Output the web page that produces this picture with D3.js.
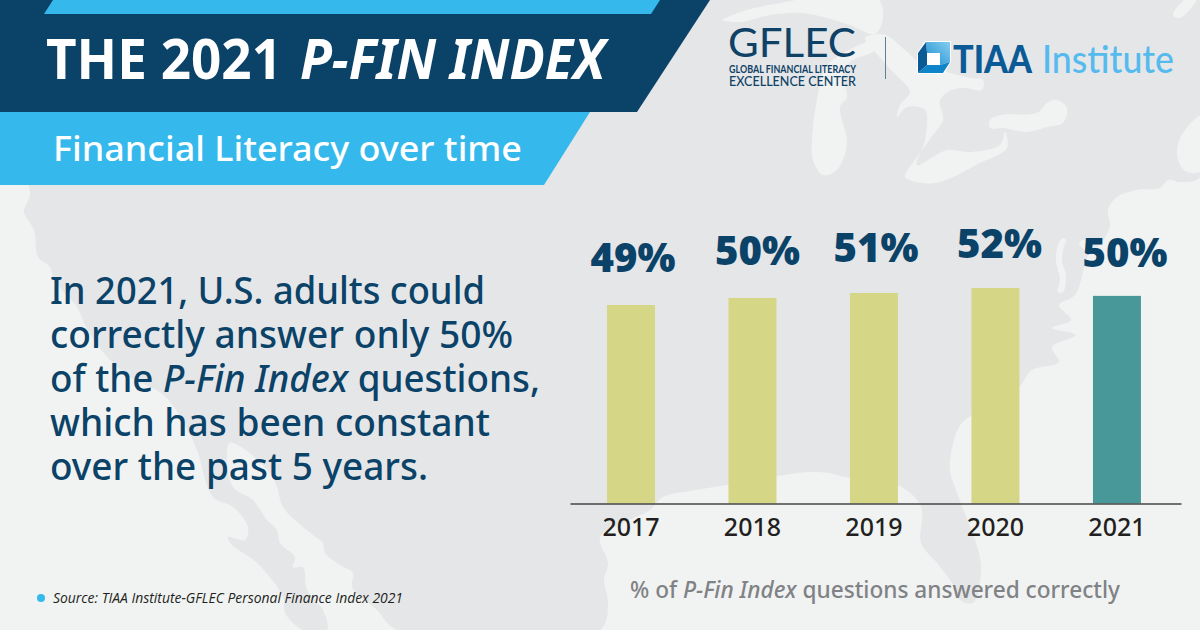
<!DOCTYPE html>
<html lang="en">
<head>
<meta charset="utf-8">
<title>The 2021 P-Fin Index</title>
<script src="https://d3js.org/d3.v7.min.js"></script>
<style>
  html, body { margin: 0; padding: 0; background: #f1f3f3; }
  svg { display: block; }
  text { font-family: "Noto Sans", sans-serif; }
  .logo { font-family: Lato, sans-serif; }
</style>
</head>
<body>
<div id="chart"></div>
<script>
// chart data
var years = ["2017", "2018", "2019", "2020", "2021"];
// bar heights (they don't sit exactly on the rounded labels)
var barValues = [47.9, 49.6, 50.8, 52.0, 50.1];
var valueLabels = ["49%", "50%", "51%", "52%", "50%"];
var labelRaise = [33, 33, 31, 30, 29];
var labelShift = [2, 5, 2, 4, 8];

var bodyLines = [
  [["In 2021, U.S. adults could", false]],
  [["correctly answer only 50%", false]],
  [["of the ", false], ["P-Fin Index", true], [" questions,", false]],
  [["which has been constant", false]],
  [["over the past 5 years.", false]]
];
var bodyWidths = [435, 463, 490, 440, 378];

// background map, traced by hand
var land = [[29,112],[29,185],[30,195],[24,212],[34,230],[38,257],[50,267],[54,280],[77,307],[86,327],[107,357],[130,377],[161,393],[176,410],[191,437],[197,450],[213,497],[233,507],[248,527],[245,540],[228,537],[232,545],[257,563],[283,597],[285,613],[303,630],[327,630],[323,610],[307,590],[303,567],[293,567],[295,557],[280,543],[277,530],[267,520],[253,500],[233,487],[227,450],[230,443],[241,447],[270,473],[277,487],[283,507],[303,527],[317,538],[323,543],[325,553],[340,565],[353,573],[352,587],[377,610],[397,630],[600,630],[608,603],[604,580],[608,563],[600,537],[625,522],[650,510],[663,497],[696,490],[740,483],[784,475],[810,472],[828,473],[845,477],[898,485],[921,507],[921,543],[937,563],[952,583],[960,600],[973,603],[981,573],[979,553],[956,490],[950,470],[954,440],[962,423],[990,405],[1019,387],[1032,370],[1059,362],[1052,347],[1076,335],[1052,328],[1071,320],[1059,305],[1075,295],[1083,272],[1087,255],[1079,243],[1084,240],[1095,248],[1110,227],[1108,210],[1117,197],[1137,190],[1160,188],[1168,180],[1180,182],[1200,177],[1200,0],[29,0]];
var waters = [
  [[723,20],[747,10],[780,3],[812,-2],[877,-2],[883,17],[875,34],[850,25],[827,18],[803,13],[770,15],[740,22]],
  [[865,38],[885,35],[905,50],[923,65],[947,72],[970,78],[983,80],[982,90],[965,88],[952,90],[940,100],[943,120],[933,135],[915,160],[905,177],[923,183],[940,182],[980,163],[1007,148],[1005,132],[1000,145],[970,152],[947,150],[917,165],[925,140],[925,110],[907,107],[897,117],[900,105],[910,92],[893,72],[875,52]],
  [[825,68],[845,52],[872,42],[875,50],[850,62],[843,75],[847,97],[840,107],[847,143],[837,170],[823,175],[813,160],[813,127],[820,85]],
  [[990,120],[1000,115],[1037,113],[1047,103],[1057,100],[1067,108],[1063,123],[1047,127],[1027,132],[1003,128],[990,128]],
  [[1063,238],[1058,245],[1056,262],[1060,278],[1058,292],[1063,292],[1066,275],[1062,262],[1063,250],[1066,240]],
  [[1203,115],[1180,138],[1178,160],[1187,172],[1203,170]],
  [[1173,15],[1187,-2],[1197,-2],[1180,18]]
];

var navy = "#0b4268", cyan = "#35b9ec", olive = "#d5d786", teal = "#489799", landGrey = "#e5e6e8", paper = "#f1f3f3";

var svg = d3.select("#chart").append("svg").attr("width", 1200).attr("height", 630);

svg.append("rect").attr("width", 1200).attr("height", 630).attr("fill", paper);

var mapLine = d3.line().curve(d3.curveCatmullRom.alpha(0.5));
svg.append("path").attr("d", mapLine(land) + "Z").attr("fill", landGrey);
var lakeLine = d3.line().curve(d3.curveCatmullRomClosed.alpha(0.5));
svg.selectAll(".water").data(waters).enter().append("path")
  .attr("class", "water")
  .attr("d", function(d) { return lakeLine(d); })
  .attr("fill", paper);

// header banners
svg.append("polygon").attr("points", "0,0 710,0 637,112 0,112").attr("fill", navy);
svg.append("polygon").attr("points", "53,0 660,0 651,14 44,14").attr("fill", cyan);
svg.append("polygon").attr("points", "0,112 590,112 544,185 0,185").attr("fill", cyan);

svg.append("text").attr("x", 46).attr("y", 79)
  .attr("fill", "#fff").attr("font-size", 55).attr("font-weight", 700)
  .attr("textLength", 236).attr("lengthAdjust", "spacingAndGlyphs")
  .text("THE 2021");
svg.append("text").attr("x", 300).attr("y", 79)
  .attr("fill", "#fff").attr("font-size", 55).attr("font-weight", 700).attr("font-style", "italic")
  .attr("textLength", 305).attr("lengthAdjust", "spacingAndGlyphs")
  .text("P-FIN INDEX");

svg.append("text").attr("x", 53).attr("y", 161)
  .attr("fill", "#fff").attr("font-size", 35).attr("font-weight", 500)
  .attr("textLength", 469).attr("lengthAdjust", "spacingAndGlyphs")
  .text("Financial Literacy over time");

// left hand paragraph
bodyLines.forEach(function(runs, i) {
  var t = svg.append("text").attr("x", 50).attr("y", 304 + i * 44)
    .attr("fill", navy).attr("font-size", 37.5).attr("font-weight", 500)
    .attr("textLength", bodyWidths[i]).attr("lengthAdjust", "spacingAndGlyphs");
  runs.forEach(function(r) {
    t.append("tspan").attr("font-style", r[1] ? "italic" : "normal").text(r[0]);
  });
});

// source note
svg.append("circle").attr("cx", 41).attr("cy", 598).attr("r", 4).attr("fill", cyan);
svg.append("text").attr("x", 53).attr("y", 603)
  .style("font-family", "'Open Sans', sans-serif")
  .attr("fill", "#231f20").attr("font-size", 14).attr("font-style", "italic")
  .attr("textLength", 350).attr("lengthAdjust", "spacingAndGlyphs")
  .text("Source: TIAA Institute-GFLEC Personal Finance Index 2021");

// bars
var x = d3.scaleBand().domain(years).range([570, 1181]).paddingInner(0.605).paddingOuter(0.317).align(0.48);
var y = d3.scaleLinear().domain([0, 52]).range([503.5, 288]);

svg.selectAll(".bar").data(years).enter().append("rect")
  .attr("class", "bar")
  .attr("x", function(d) { return x(d); })
  .attr("width", x.bandwidth())
  .attr("y", function(d, i) { return y(barValues[i]); })
  .attr("height", function(d, i) { return y(0) - y(barValues[i]); })
  .attr("fill", function(d, i) { return i === years.length - 1 ? teal : olive; });

svg.selectAll(".value").data(years).enter().append("text")
  .attr("class", "value")
  .attr("x", function(d, i) { return x(d) + x.bandwidth() / 2 + labelShift[i]; })
  .attr("y", function(d, i) { return y(barValues[i]) - labelRaise[i]; })
  .attr("text-anchor", "middle")
  .attr("fill", navy).attr("font-size", 41).attr("font-weight", 900)
  .attr("textLength", 85).attr("lengthAdjust", "spacingAndGlyphs")
  .text(function(d, i) { return valueLabels[i]; });

var axis = svg.append("g").attr("transform", "translate(0,503.5)")
  .call(d3.axisBottom(x).tickSize(0).tickPadding(15).tickSizeOuter(0));
axis.select(".domain").attr("stroke", "#444").attr("stroke-width", 1.5);
axis.selectAll("text")
  .style("font-family", "'Noto Sans', sans-serif")
  .attr("font-size", 25).attr("fill", "#231f20").attr("font-weight", 500);

var cap = svg.append("text").attr("x", 630).attr("y", 598)
  .attr("fill", "#808285").attr("font-size", 23).attr("font-weight", 500)
  .attr("textLength", 490).attr("lengthAdjust", "spacingAndGlyphs");
cap.append("tspan").text("% of ");
cap.append("tspan").attr("font-style", "italic").text("P-Fin Index");
cap.append("tspan").text(" questions answered correctly");

// logos
var logoNavy = "#0e4266";
svg.append("text").attr("class", "logo").attr("x", 728).attr("y", 57)
  .attr("fill", logoNavy).attr("font-size", 40)
  .attr("textLength", 128).attr("lengthAdjust", "spacingAndGlyphs").text("GFLEC");
svg.append("text").attr("class", "logo").attr("x", 729).attr("y", 72.5)
  .attr("fill", logoNavy).attr("font-size", 10.5).attr("font-weight", 700)
  .attr("textLength", 127).attr("lengthAdjust", "spacingAndGlyphs").text("GLOBAL FINANCIAL LITERACY");
svg.append("text").attr("class", "logo").attr("x", 729).attr("y", 86)
  .attr("fill", logoNavy).attr("font-size", 13.5).attr("font-weight", 500)
  .attr("textLength", 127).attr("lengthAdjust", "spacingAndGlyphs").text("EXCELLENCE CENTER");
svg.append("line").attr("x1", 885.5).attr("x2", 885.5).attr("y1", 37).attr("y2", 79)
  .attr("stroke", "#5f7f95").attr("stroke-width", 1);

var grad = svg.append("defs").append("linearGradient").attr("id", "tiaaTop")
  .attr("x1", 0).attr("x2", 1).attr("y1", 1).attr("y2", 0);
grad.append("stop").attr("offset", 0).attr("stop-color", "#1b8ed0");
grad.append("stop").attr("offset", 1).attr("stop-color", "#86cdf0");
svg.append("polygon").attr("points", "925,41 951,41 951,62 944,74 917,74 917,53").attr("fill", "#fff");
svg.append("polygon").attr("points", "926,42 950,42 950,62 940,65 940,53 927,53").attr("fill", "url(#tiaaTop)");
svg.append("polygon").attr("points", "918,73 927,65 940,65 950,62 943,73").attr("fill", "#0f84c8");
svg.append("polygon").attr("points", "918,53 926,42 927,53 927,65 918,73").attr("fill", "#0a5a96");

svg.append("text").attr("class", "logo").attr("x", 953).attr("y", 73)
  .attr("fill", "#0a5a96").attr("font-size", 37).attr("font-weight", 900)
  .attr("textLength", 79).attr("lengthAdjust", "spacingAndGlyphs").text("TIAA");
svg.append("text").attr("class", "logo").attr("x", 1042).attr("y", 73)
  .attr("fill", "#55bbee").attr("font-size", 38).attr("font-weight", 500)
  .attr("textLength", 132).attr("lengthAdjust", "spacingAndGlyphs").text("Institute");
</script>
</body>
</html>
